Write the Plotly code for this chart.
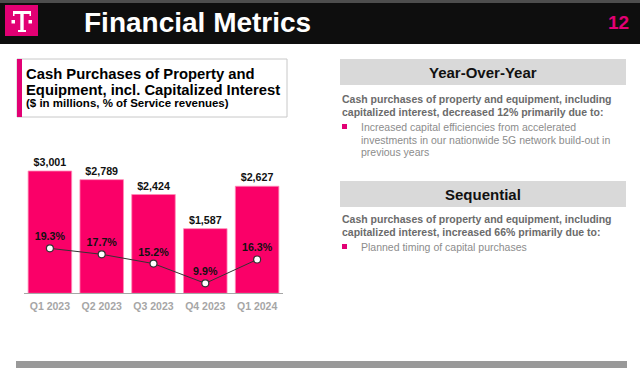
import plotly.graph_objects as go

# ---- data ----
quarters = ["Q1 2023", "Q2 2023", "Q3 2023", "Q4 2023", "Q1 2024"]
capex = [3001, 2789, 2424, 1587, 2627]
pct_service = [19.3, 17.7, 15.2, 9.9, 16.3]
pct_labels = ["19.3%", "17.7%", "15.2%", "9.9%", "16.3%"]

W, H = 640, 371
PINK = "#FA0068"
MAGENTA = "#E20074"
FONT = "Arial, Liberation Sans, sans-serif"


def px(x):
    return x / W


def py(y):
    return 1 - y / H


fig = go.Figure()
fig.add_trace(go.Bar(
    x=quarters, y=capex, marker=dict(color=PINK, line=dict(width=0.8, color="#ff8ab8")),
    texttemplate="$%{y:,}", textposition="outside",
    textfont=dict(family=FONT, size=10.7, color="#111111", weight="bold"),
    cliponaxis=False, showlegend=False, hoverinfo="skip"))
fig.add_trace(go.Scatter(
    x=quarters, y=pct_service, yaxis="y2", mode="lines+markers+text",
    text=pct_labels, textposition="top center",
    textfont=dict(family=FONT, size=10.7, color="#111111", weight="bold"),
    line=dict(color="#333333", width=1),
    marker=dict(size=7, color="white", line=dict(color="#333333", width=1.2)),
    cliponaxis=False, showlegend=False, hoverinfo="skip"))

shapes = []
# header
shapes.append(dict(type="rect", xref="paper", yref="paper", x0=0, x1=1, y0=py(44), y1=1,
                   fillcolor="#0e0e0e", line=dict(width=0), layer="below"))
shapes.append(dict(type="rect", xref="paper", yref="paper", x0=0, x1=1, y0=py(3), y1=1,
                   fillcolor="#4d4d4d", line=dict(width=0), layer="below"))


def rect(x0, y0, x1, y1, color, lw=0, lc=None, layer="above"):
    d = dict(type="rect", xref="paper", yref="paper", x0=px(x0), x1=px(x1), y0=py(y1), y1=py(y0),
             fillcolor=color, line=dict(width=lw, color=lc or color), layer=layer)
    shapes.append(d)


# logo
rect(5, 5, 38, 36, MAGENTA)
rect(13, 11, 31, 14, "white")
rect(13, 11, 14.5, 16, "white")
rect(29.5, 11, 31, 16, "white")
rect(20.3, 11, 23.7, 31, "white")
rect(18, 30, 26, 32, "white")
rect(11.5, 20, 15, 23.5, "white")
rect(28.5, 20, 32, 23.5, "white")

# title box
rect(17, 59, 287, 117, "white", lw=1, lc="#c8c8c8", layer="below")
rect(17, 59, 22, 117, MAGENTA)
# right panel boxes
rect(340, 59, 626, 85, "#d9d9d9", layer="below")
rect(340, 181, 626, 207, "#d9d9d9", layer="below")
# bullets
rect(342, 124, 347, 129, MAGENTA)
rect(342, 244, 347, 249, MAGENTA)
# bottom bar
rect(16, 361, 627, 368, "#999999", layer="below")

ann = []


def text(x, y, s, size, color="#000000", bold=False, xanchor="left"):
    ann.append(dict(x=px(x), y=py(y), xref="paper", yref="paper", text=("<b>%s</b>" % s) if bold else s,
                    showarrow=False, xanchor=xanchor, yanchor="middle",
                    font=dict(family=FONT, size=size, color=color)))


text(82, 23, "Financial Metrics", 28, "white", True)
text(631, 23, "12", 19, MAGENTA, True, "right")

text(24, 74, "Cash Purchases of Property and", 14.8, "#000000", True)
text(24, 89.5, "Equipment, incl. Capitalized Interest", 14.8, "#000000", True)
text(24, 103.5, "($ in millions, % of Service revenues)", 11.5, "#000000", True)

text(483, 72, "Year-Over-Year", 15, "#111111", True, "center")
text(483, 194, "Sequential", 15, "#111111", True, "center")

BODY = "#6b6b6b"
BUL = "#8c8c8c"
text(340, 99, "Cash purchases of property and equipment, including", 10.5, BODY, True)
text(340, 112, "capitalized interest, decreased 12% primarily due to:", 10.5, BODY, True)
text(359, 127, "Increased capital efficiencies from accelerated", 10.5, BUL)
text(359, 139.5, "investments in our nationwide 5G network build-out in", 10.5, BUL)
text(359, 152, "previous years", 10.5, BUL)
text(340, 219, "Cash purchases of property and equipment, including", 10.5, BODY, True)
text(340, 232, "capitalized interest, increased 66% primarily due to:", 10.5, BODY, True)
text(359, 247, "Planned timing of capital purchases", 10.5, BUL)

fig.update_layout(
    width=W, height=H, autosize=False,
    margin=dict(l=0, r=0, t=0, b=0),
    paper_bgcolor="white", plot_bgcolor="rgba(0,0,0,0)",
    bargap=0.16,
    shapes=shapes, annotations=ann,
    xaxis=dict(domain=[px(24), px(283)], showline=True, linecolor="#a6a6a6", linewidth=1,
               showgrid=False, zeroline=False, ticks="", ticklabelstandoff=3,
               tickfont=dict(family=FONT, size=10.5, color="#a6a6a6", weight="bold")),
    yaxis=dict(domain=[py(293.3), py(150)], range=[0, 3516.6], visible=False),
    yaxis2=dict(domain=[py(293.3), py(150)], range=[7.225, 45.72], overlaying="y", visible=False),
)
fig.write_html("out.html", config={"displayModeBar": False},
               post_script="document.body.style.margin='0';document.body.style.overflow='hidden';")
